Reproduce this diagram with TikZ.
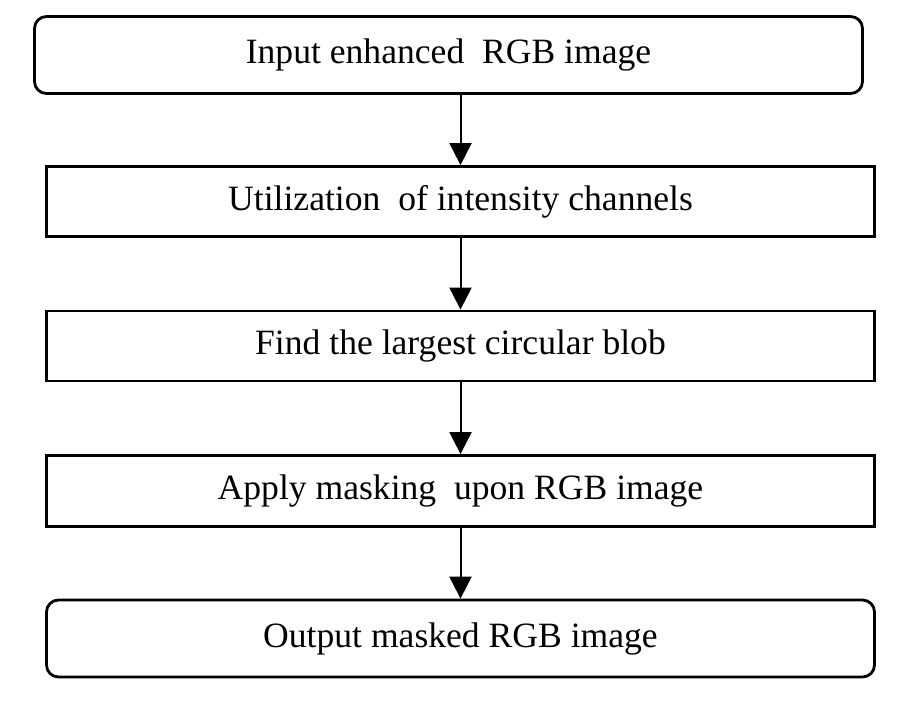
\documentclass[tikz,border=0pt]{standalone}
\usepackage{fontspec}
\setmainfont{Liberation Serif}
\usetikzlibrary{arrows.meta}

\begin{document}
\begin{tikzpicture}[x=0.5pt, y=-0.5pt,
        stepbox/.style={draw, line width=1.4pt, minimum width=414pt, minimum height=35pt, inner sep=0pt, font=\fontsize{17.8}{20}\selectfont},
        endbox/.style={stepbox, rounded corners=6pt, minimum height=38.5pt},
        flow/.style={-{Triangle[width=11pt, length=11pt]}, line width=1pt}]
        \useasboundingbox (0,0) rectangle (904,711);

        \node[endbox] at (448.5, 55) (input) {Input enhanced\ \ RGB image};
        \node[stepbox] at (460.5, 201.5) (channels) {Utilization\ \ of intensity channels};
        \node[stepbox] at (460.5, 346) (blob) {Find the largest circular blob};
        \node[stepbox, minimum height=35.5pt] at (460.5, 491) (masking) {Apply masking\ \ upon RGB image};
        \node[endbox] at (460.5, 638.5) (output) {Output masked RGB image};

        \draw[flow] (input.south -| channels.north) -- (channels.north);
        \draw[flow] (channels) -- (blob);
        \draw[flow] (blob) -- (masking);
        \draw[flow] (masking) -- (output);
    \end{tikzpicture}
\end{document}
